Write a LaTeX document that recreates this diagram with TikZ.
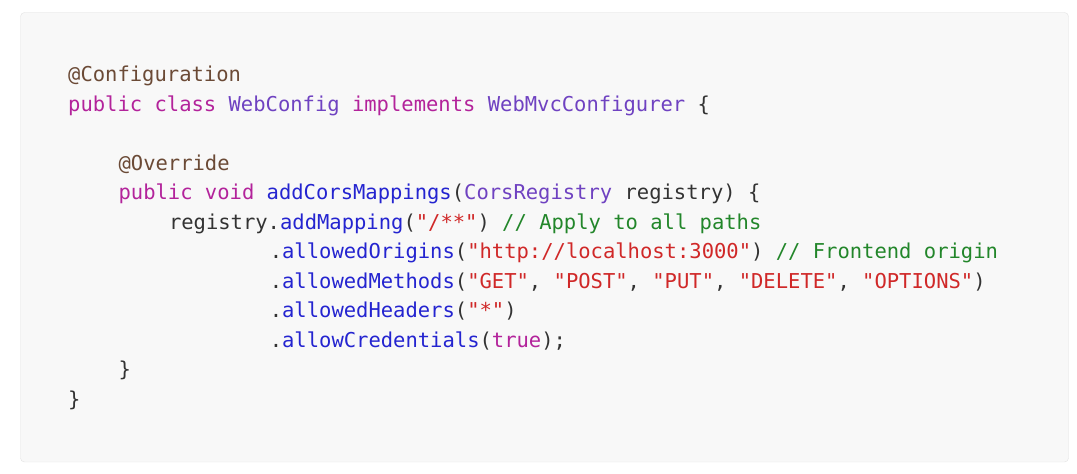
\documentclass[tikz,border=0pt]{standalone}
\usepackage{fontspec}
\setmonofont{DejaVu Sans Mono}
\definecolor{bg}{HTML}{F8F8F8}
\definecolor{bd}{HTML}{E2E2E2}
\definecolor{an}{HTML}{6B4A36}
\definecolor{kw}{HTML}{B3239B}
\definecolor{cl}{HTML}{6F42C1}
\definecolor{fn}{HTML}{2424D0}
\definecolor{st}{HTML}{D02828}
\definecolor{cm}{HTML}{22862A}
\definecolor{tx}{HTML}{333333}
\newcommand{\An}[1]{\textcolor{an}{#1}}
\newcommand{\Kw}[1]{\textcolor{kw}{#1}}
\newcommand{\Cl}[1]{\textcolor{cl}{#1}}
\newcommand{\Fn}[1]{\textcolor{fn}{#1}}
\newcommand{\St}[1]{\textcolor{st}{#1}}
\newcommand{\Cm}[1]{\textcolor{cm}{#1}}
\begin{document}
\begin{tikzpicture}[x=1pt,y=1pt,
  codeline/.style={anchor=base west,inner sep=0pt,font=\ttfamily\fontsize{20.5}{24}\selectfont,text=tx}]
\useasboundingbox (0,0) rectangle (1077,474);
\fill[white] (0,0) rectangle (1077,474);
\draw[bd,fill=bg,rounded corners=4pt] (20.5,12) rectangle (1068.5,461.5);
\def\cw{12.6}
\node[codeline] (l1) at (68,392) {\An{@Configuration}};
\node[codeline] (l2) at (68,362.5) {\Kw{public} \Kw{class} \Cl{WebConfig} \Kw{implements} \Cl{WebMvcConfigurer} \{};
\node[codeline] (l4) at (68+4*\cw,303.5) {\An{@Override}};
\node[codeline] (l5) at (68+4*\cw,274) {\Kw{public} \Kw{void} \Fn{addCorsMappings}(\Cl{CorsRegistry} registry) \{};
\node[codeline] (l6) at (68+8*\cw,244.5) {registry.\Fn{addMapping}(\St{"/**"}) \Cm{// Apply to all paths}};
\node[codeline] (l7) at (68+16*\cw,215) {.\Fn{allowedOrigins}(\St{"http://localhost:3000"}) \Cm{// Frontend origin}};
\node[codeline] (l8) at (68+16*\cw,185.5) {.\Fn{allowedMethods}(\St{"GET"}, \St{"POST"}, \St{"PUT"}, \St{"DELETE"}, \St{"OPTIONS"})};
\node[codeline] (l9) at (68+16*\cw,156) {.\Fn{allowedHeaders}(\St{"*"})};
\node[codeline] (l10) at (68+16*\cw,126.5) {.\Fn{allowCredentials}(\Kw{true});};
\node[codeline] (l11) at (68+4*\cw,97) {\}};
\node[codeline] (l12) at (68,67.5) {\}};
\end{tikzpicture}
\end{document}
